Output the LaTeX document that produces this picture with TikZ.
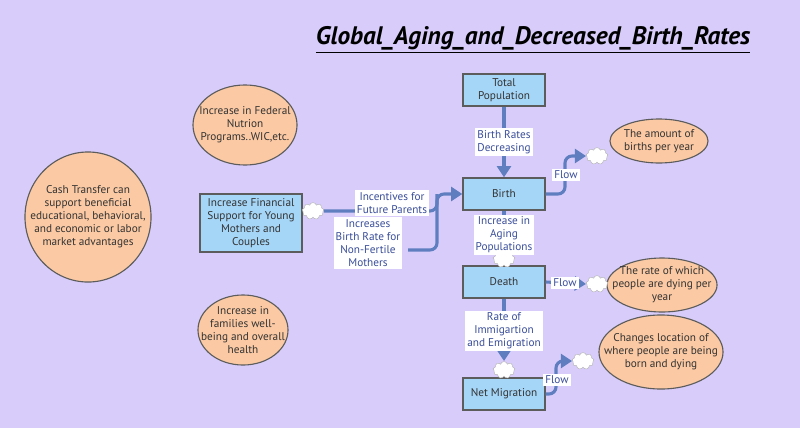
\documentclass[tikz,border=0pt]{standalone}
\usepackage{fontspec}
\setmainfont{PT Sans}
\usetikzlibrary{shapes.geometric,shapes.symbols,arrows.meta}
\definecolor{bg}{HTML}{D8CCFA}
\definecolor{boxf}{HTML}{A6D6F7}
\definecolor{ellf}{HTML}{FBC9A3}
\definecolor{flow}{HTML}{5F7EBF}
\definecolor{lbl}{HTML}{3A4E9A}
\definecolor{txt}{HTML}{333333}
\begin{document}
\begin{tikzpicture}[x=0.025cm,y=-0.025cm,
  font=\fontsize{8}{9.2}\selectfont,
  box/.style={draw=txt!80,line width=1pt,fill=boxf,text=txt,align=center,inner sep=1pt},
  ell/.style={ellipse,draw=txt!80,line width=0.8pt,fill=ellf,inner sep=0pt},
  et/.style={text=txt,align=center,inner sep=0pt},
  lab/.style={fill=white,text=lbl,align=center,inner sep=1.5pt},
  cl/.style={cloud,cloud puffs=9,draw=gray!60,fill=white,minimum width=0.55cm,minimum height=0.42cm,inner sep=0pt,line width=0.3pt},
  fl/.style={draw=flow,line width=2.2pt,rounded corners=5pt},
  ar/.style={fl,-{Triangle[length=8pt,width=10pt]}}]
\fill[bg] (0,0) rectangle (800,428);
\useasboundingbox (0,0) rectangle (800,428);
\node[text=black,font=\fontsize{18}{20}\selectfont\bfseries\itshape] (title) at (533,40) {\underline{Global\_Aging\_and\_Decreased\_Birth\_Rates}};
% boxes
\node[box,minimum width=2.05cm,minimum height=0.8cm] (tp) at (504,90) {Total\\Population};
\node[box,minimum width=2.05cm,minimum height=0.8cm] (birth) at (504,194) {Birth};
\node[box,minimum width=2.05cm,minimum height=0.8cm] (death) at (504,282) {Death};
\node[box,minimum width=2.05cm,minimum height=0.8cm] (net) at (504,394) {Net Migration};
\node[box,minimum width=2.55cm,minimum height=1.45cm] (fin) at (251,223) {Increase Financial\\Support for Young\\Mothers and\\Couples};
% ellipses
\node[ell,minimum width=2.6cm,minimum height=2.0cm] (e1) at (245,125) {};
\node[et] (t1) at (e1) {Increase in Federal\\Nutrion\\Programs..WIC,etc.};
\node[ell,minimum width=3.15cm,minimum height=3.25cm] (e2) at (88,217) {};
\node[et] (t2) at (e2) {Cash Transfer can\\support beneficial\\educational, behavioral,\\and economic or labor\\market advantages};
\node[ell,minimum width=2.25cm,minimum height=1.75cm] (e3) at (243,330) {};
\node[et] (t3) at (e3) {Increase in\\families well-\\being and overall\\health};
\node[ell,minimum width=2.45cm,minimum height=1.1cm] (e4) at (659,141) {};
\node[et] (t4) at (e4) {The amount of\\births per year};
\node[ell,minimum width=2.75cm,minimum height=1.35cm] (e5) at (662,285) {};
\node[et] (t5) at (e5) {The rate of which\\people are dying per\\year};
\node[ell,minimum width=3.1cm,minimum height=1.85cm] (e6) at (661,352) {};
\node[et] (t6) at (e6) {Changes location of\\where people are being\\born and dying};
% clouds
\node[cl] (c1) at (597,156) {};
\node[cl] (c2) at (313,211) {};
\node[cl] (c3) at (504,259) {};
\node[cl] (c4) at (597,284) {};
\node[cl] (c5) at (504,370) {};
\node[cl] (c6) at (583,361) {};
% connectors
\draw[ar] (tp) -- (birth);
\draw[ar] (birth.east) -| (565,156) -- (c1.west);
\draw[ar] (c2.east) -- (437,211) |- (birth.west);
\coordinate (m2) at (408,250);
\draw[fl] (m2) -- (437,250) -- (437,194);
\draw[fl] (birth.south) -- (c3.north);
\draw[ar] (death.east) -- (c4.west);
\draw[ar] (death.south) -- (504,361);
\draw[ar] (net.east) -| (556,361) -- (c6.west);
% labels
\node[lab] (l1) at (504,142) {Birth Rates\\Decreasing};
\node[lab] (l2) at (566,175) {Flow};
\node[lab] (l3) at (392,203) {Incentives for\\Future Parents};
\node[lab] (l4) at (368,243) {Increases\\Birth Rate for\\Non-Fertile\\Mothers};
\node[lab] (l5) at (504,235) {Increase in\\Aging\\Populations};
\node[lab] (l6) at (565,283) {Flow};
\node[lab] (l7) at (504,331) {Rate of\\Immigartion\\and Emigration};
\node[lab] (l8) at (557,380) {Flow};
\end{tikzpicture}
\end{document}
